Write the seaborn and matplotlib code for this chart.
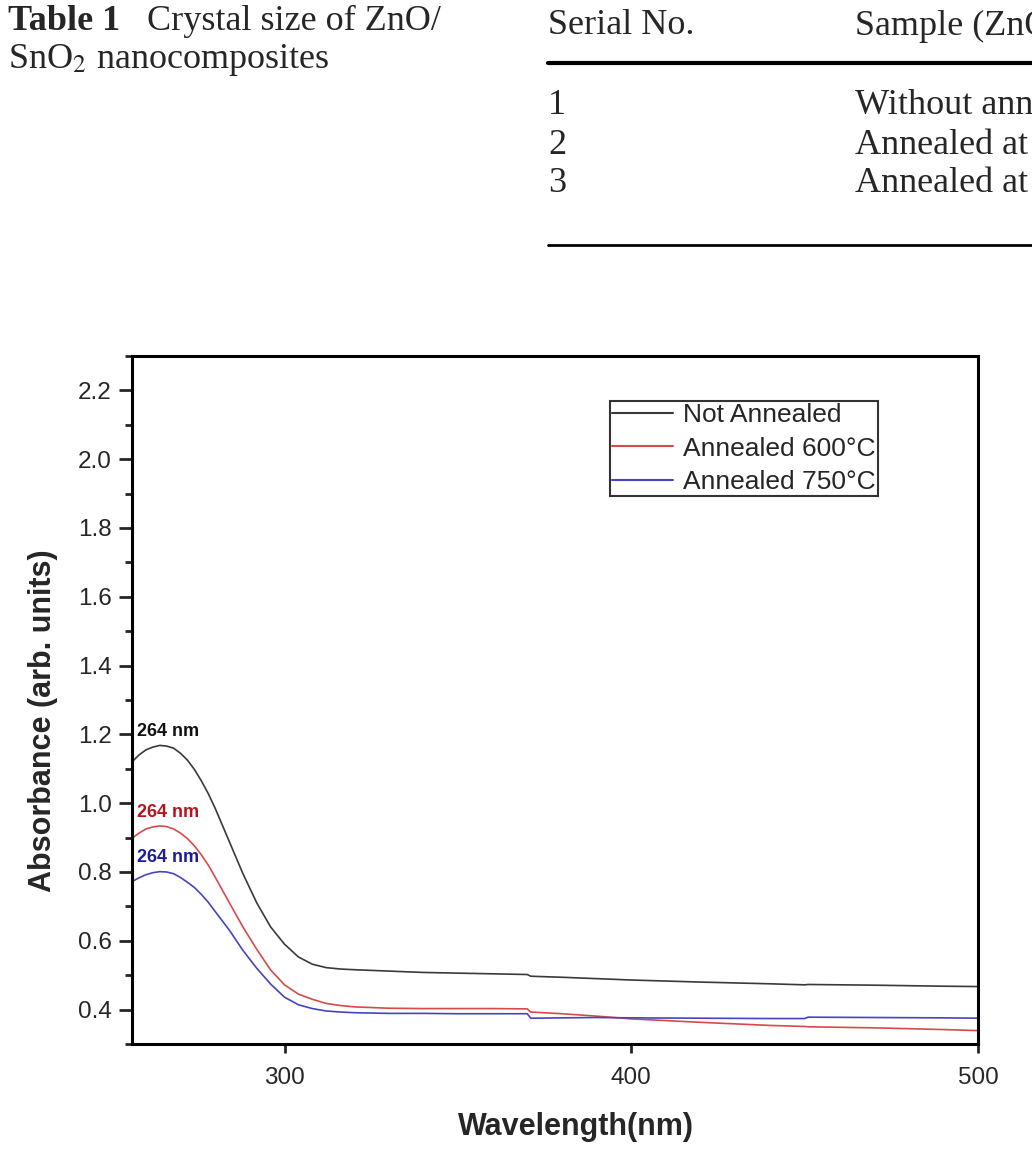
import pandas as pd
import matplotlib.pyplot as plt
from matplotlib.lines import Line2D
from matplotlib.ticker import MultipleLocator
import seaborn as sns

# Absorbance spectra
wavelength = [256, 258, 260, 262, 264, 266, 268, 270, 272, 274, 276, 278, 280, 284,
              288, 292, 296, 300, 304, 308, 312, 316, 320, 330, 340, 350, 360, 370,
              371, 380, 390, 400, 420, 440, 450, 451, 470, 490, 500]
not_annealed = [1.120, 1.140, 1.155, 1.163, 1.168, 1.166, 1.160, 1.145, 1.125, 1.098,
                1.065, 1.028, 0.985, 0.890, 0.795, 0.710, 0.640, 0.590, 0.553, 0.532,
                0.522, 0.518, 0.516, 0.512, 0.508, 0.506, 0.504, 0.502, 0.497, 0.494,
                0.490, 0.486, 0.480, 0.475, 0.472, 0.473, 0.471, 0.468, 0.467]
annealed_600 = [0.898, 0.913, 0.925, 0.931, 0.934, 0.932, 0.925, 0.913, 0.897, 0.876,
                0.850, 0.820, 0.785, 0.712, 0.640, 0.575, 0.515, 0.472, 0.445, 0.430,
                0.418, 0.412, 0.408, 0.404, 0.403, 0.403, 0.403, 0.402, 0.393, 0.388,
                0.381, 0.373, 0.363, 0.354, 0.351, 0.350, 0.347, 0.342, 0.339]
annealed_750 = [0.772, 0.783, 0.792, 0.798, 0.801, 0.800, 0.795, 0.784, 0.770, 0.755,
                0.735, 0.712, 0.685, 0.632, 0.572, 0.520, 0.474, 0.436, 0.414, 0.403,
                0.396, 0.393, 0.391, 0.389, 0.389, 0.388, 0.388, 0.388, 0.375, 0.376,
                0.377, 0.376, 0.375, 0.374, 0.374, 0.378, 0.377, 0.376, 0.375]
series_names = ["Not Annealed", "Annealed 600°C", "Annealed 750°C"]
peak_label = "264 nm"

# table fragment above the chart (only the part visible in the page crop)
table_title_bold = "Table 1"
table_title = "Crystal size of ZnO/"
table_title2 = "SnO$_2$ nanocomposites"
table_headers = ["Serial No.", "Sample (ZnO"]
table_serial = ["1", "2", "3"]
table_samples = ["Without ann", "Annealed at", "Annealed at"]

df = pd.DataFrame({
    "wavelength": wavelength * 3,
    "absorbance": not_annealed + annealed_600 + annealed_750,
    "sample": [series_names[0]] * len(wavelength) + [series_names[1]] * len(wavelength)
              + [series_names[2]] * len(wavelength),
})

sns.set_style("ticks")
plt.rcParams['font.family'] = ['Liberation Sans', 'DejaVu Sans']
plt.rcParams['mathtext.fontset'] = 'stix'

line_colors = ["#3a3a3a", "#d84a4a", "#4545c0"]
text_colors = ["#111111", "#b8141e", "#1c1c9a"]

W, H = 1032, 1166
fig = plt.figure(figsize=(W / 100, H / 100), dpi=100)
ax = fig.add_axes([132 / W, 1 - 1044 / H, (978 - 132) / W, (1044 - 356) / H])

sns.lineplot(data=df, x="wavelength", y="absorbance", hue="sample", palette=line_colors,
             errorbar=None, sort=False, linewidth=1.2, ax=ax, legend=False)

ax.set_xlim(256, 500)
ax.set_ylim(0.3, 2.3)
ax.set_xticks([300, 400, 500])
ax.set_yticks([0.4, 0.6, 0.8, 1.0, 1.2, 1.4, 1.6, 1.8, 2.0, 2.2])
ax.yaxis.set_minor_locator(MultipleLocator(0.1))

for s in ax.spines.values():
    s.set_linewidth(2.2)
    s.set_color("black")
ax.tick_params(axis="y", which="major", length=9.5, width=2, labelsize=17.5, pad=5)
ax.tick_params(axis="y", which="minor", length=5, width=2)
ax.tick_params(axis="x", which="major", length=6.5, width=2, labelsize=17.5, pad=10)
ax.tick_params(axis="x", which="minor", length=0)

ax.set_xlabel("Wavelength(nm)", fontsize=22, fontweight="bold", va="center")
ax.xaxis.set_label_coords(0.525, -0.1206)
ax.set_ylabel("Absorbance (arb. units)", fontsize=22, fontweight="bold", va="center")
ax.yaxis.set_label_coords(-0.105, 0.47)

# peak labels
for vals, c in zip([not_annealed, annealed_600, annealed_750], text_colors):
    ax.text(257.4, max(vals) + 0.04, peak_label, fontsize=13, fontweight="bold",
            color=c, ha="left", va="center")

handles = [Line2D([], [], color=c, linewidth=1.5) for c in line_colors]
leg = ax.legend(handles, series_names, loc="upper left", bbox_to_anchor=(0.565, 0.9346),
                borderaxespad=0, fontsize=19, frameon=True, fancybox=False,
                borderpad=0.08, labelspacing=0.36, handlelength=2.3, handletextpad=0.4,
                framealpha=1)
leg.get_frame().set_edgecolor("#333333")
leg.get_frame().set_linewidth(1.5)

# table fragment
serif = ['Liberation Serif', 'DejaVu Serif']
tsize = 26


def fy(py):
    return 1 - py / H


fig.text(8 / W, fy(30), table_title_bold, family=serif, fontsize=tsize, fontweight="bold", va="baseline")
fig.text(147 / W, fy(30), table_title, family=serif, fontsize=tsize, va="baseline")
fig.text(8 / W, fy(68), table_title2, family=serif, fontsize=tsize, va="baseline")
fig.text(548 / W, fy(26), table_headers[0], family=serif, fontsize=tsize, va="center")
fig.text(855 / W, fy(26), table_headers[1], family=serif, fontsize=tsize, va="center")
for i, (n, smp) in enumerate(zip(table_serial, table_samples)):
    yy = 106 + 39 * i
    fig.text(548 / W, fy(yy), n, family=serif, fontsize=tsize, va="center")
    fig.text(855 / W, fy(yy), smp, family=serif, fontsize=tsize, va="center")
fig.add_artist(Line2D([548 / W, 1], [fy(63), fy(63)], color="black", linewidth=3))
fig.add_artist(Line2D([548 / W, 1], [fy(245), fy(245)], color="black", linewidth=2))

fig.savefig("out.png", dpi=100)
